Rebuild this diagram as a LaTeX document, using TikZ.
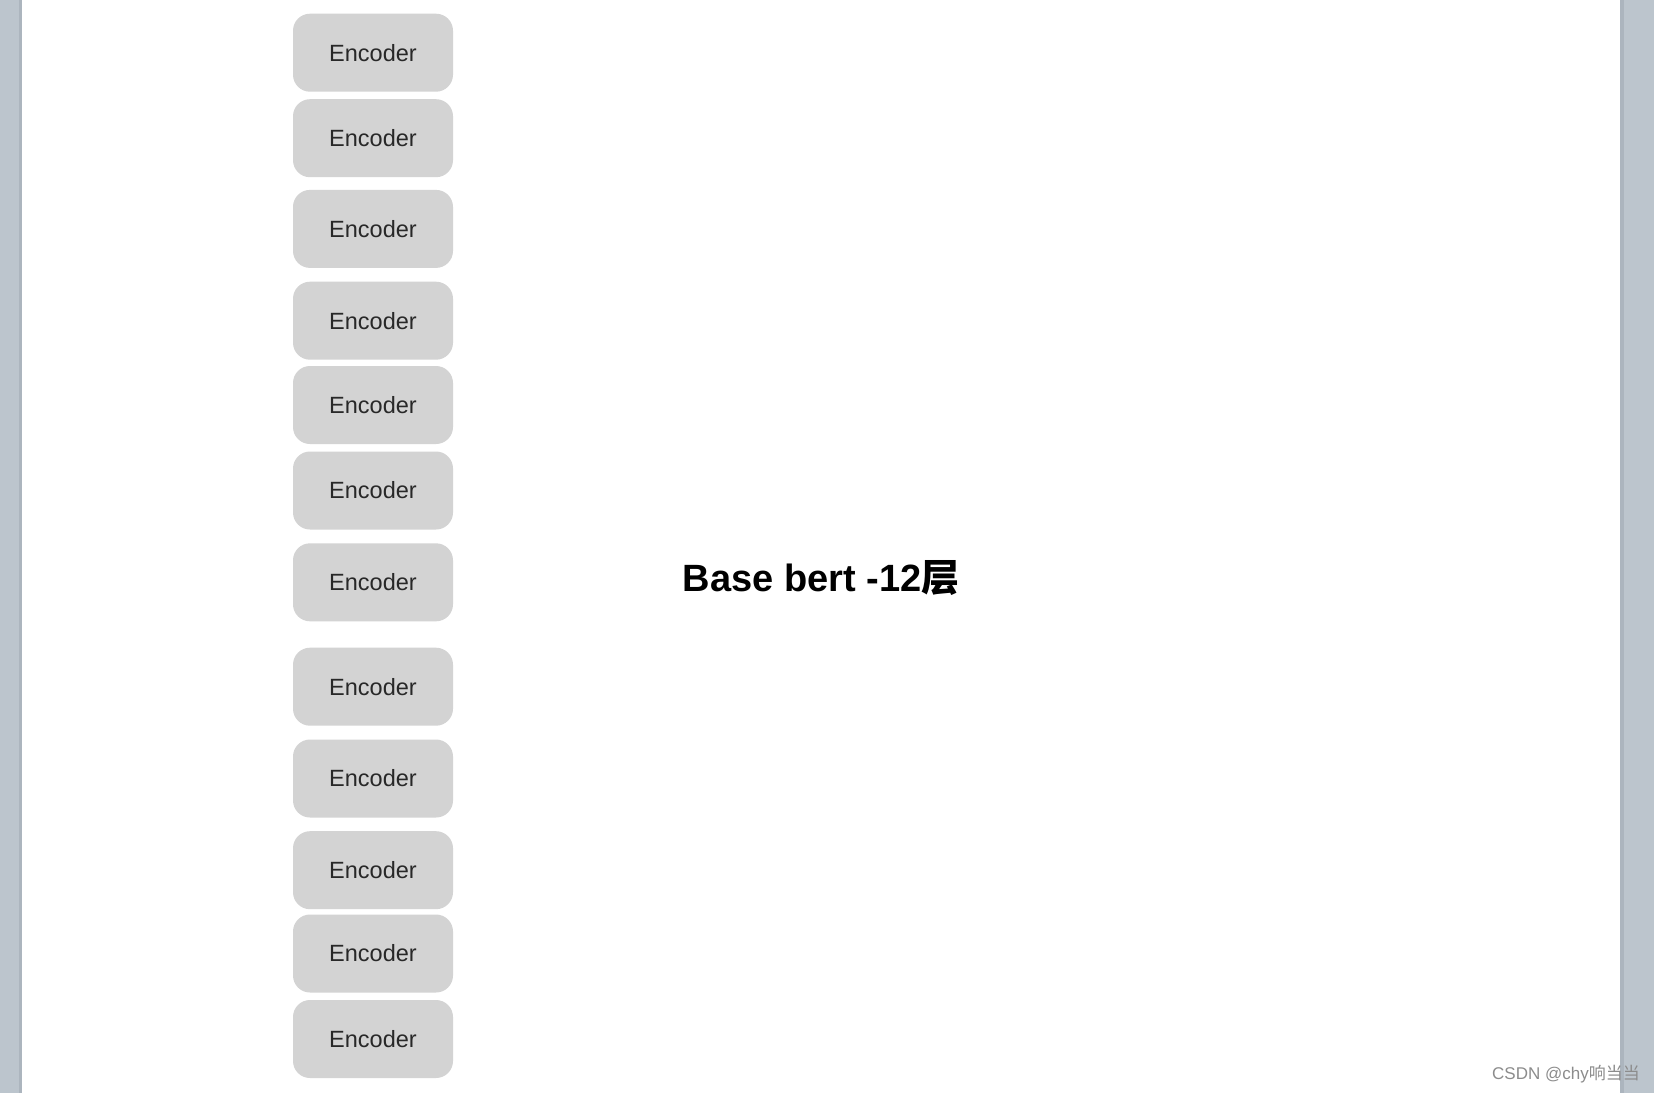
\documentclass[tikz,border=0pt]{standalone}
\usepackage{fontspec}
\setmainfont{Liberation Sans}
\newfontfamily\cjk{Noto Sans CJK SC}
\newfontfamily\cjkbold{Noto Sans CJK SC Bold}
\definecolor{band}{RGB}{188,197,205}
\definecolor{bandedge}{RGB}{172,181,190}
\definecolor{boxfill}{RGB}{211,211,211}
\definecolor{enctext}{RGB}{40,40,40}
\definecolor{wm}{RGB}{140,140,140}
\begin{document}
\begin{tikzpicture}[x=1pt,y=-1pt,
  encbox/.style={fill=boxfill, rounded corners=17pt, minimum width=160pt, minimum height=78pt, inner sep=0pt, text=enctext, font=\fontsize{23.5}{23.5}\selectfont},
  titletext/.style={font=\fontsize{38}{38}\selectfont\bfseries, anchor=center, inner sep=0pt}]
\useasboundingbox (0,0) rectangle (1654,1093);
\fill[white] (0,0) rectangle (1654,1093);
\fill[band] (0,0) rectangle (22,1093);
\fill[bandedge] (19,0) rectangle (22,1093);
\fill[band] (1620,0) rectangle (1654,1093);
\fill[bandedge] (1620,0) rectangle (1624,1093);
\foreach \i/\y in {1/52.7,2/138.2,3/228.9,4/320.7,5/405,6/490.5,7/582.3,8/686.7,9/778.5,10/870.2,11/953.5,12/1039}{
  \node[encbox] (enc\i) at (373,\y) {Encoder};
}
\node[titletext] (title) at (821,578) {Base bert -12{\cjkbold 层}};
\node[anchor=east, inner sep=0pt, text=wm, font=\fontsize{17}{17}\selectfont] (wmark) at (1640,1074) {CSDN @chy{\cjk 响当当}};
\end{tikzpicture}
\end{document}
